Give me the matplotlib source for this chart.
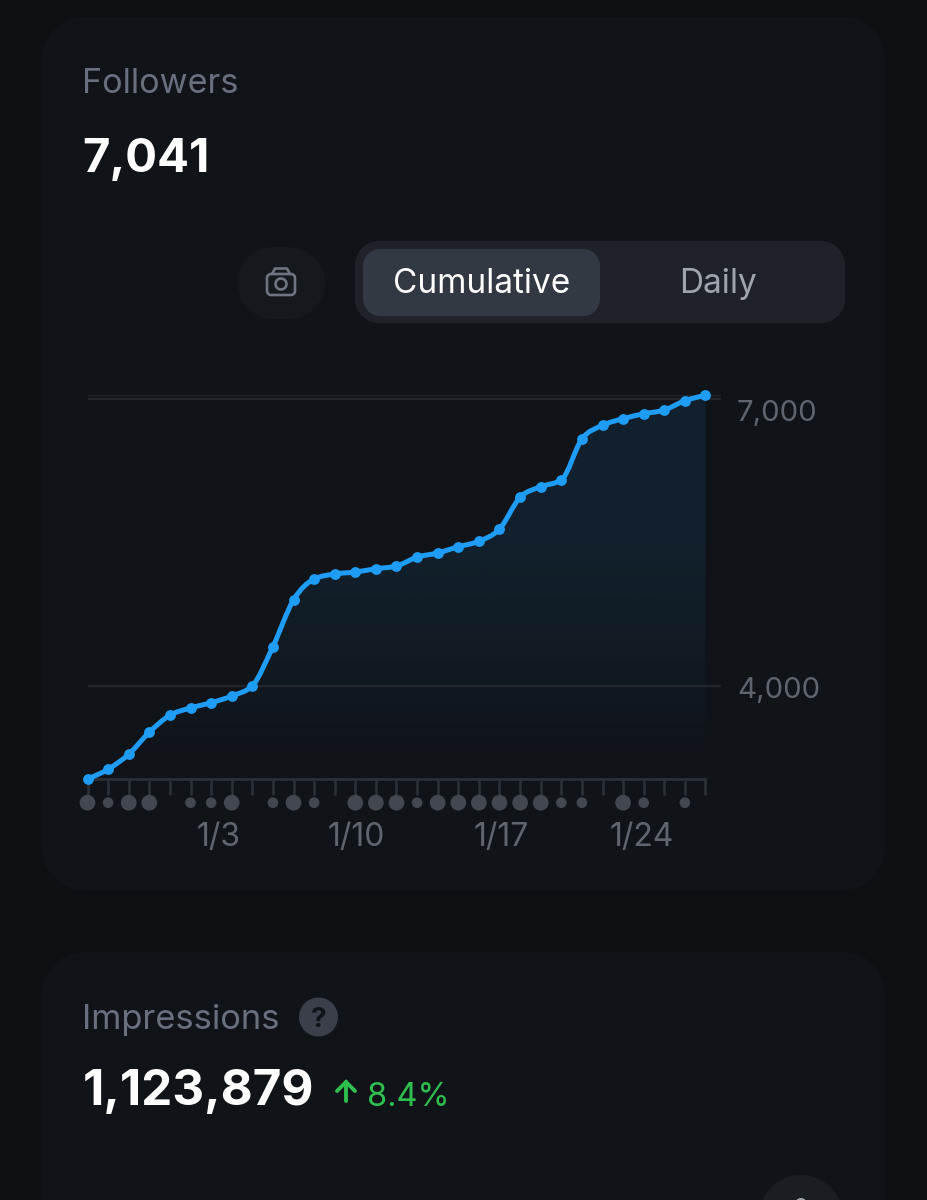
import matplotlib
matplotlib.use('Agg')
import matplotlib.pyplot as plt
import matplotlib.patches as mpatches
from matplotlib.path import Path
import numpy as np

plt.rcParams['font.family'] = ['Inter', 'DejaVu Sans']

# Cumulative followers, one value per day
followers = [3027, 3129, 3286, 3516, 3694, 3770, 3825, 3895, 4003, 4411, 4900,
             5119, 5172, 5192, 5227, 5255, 5349, 5391, 5457, 5514, 5642, 5974,
             6085, 6155, 6584, 6727, 6796, 6848, 6887, 6984, 7041]
# 2 = big dot, 1 = small dot, 0 = no dot
activity = [2, 1, 2, 2, 0, 1, 1, 2, 0, 1, 2, 1, 0, 2, 2, 2, 1, 2, 2, 2, 2, 2, 2,
            1, 1, 0, 2, 1, 0, 1, 0]
grid_values = [7041, 7000, 4000]
y_labels = ['7,000', '4,000']
y_label_values = [7000, 4000]
date_labels = ['1/3', '1/10', '1/17', '1/24']
date_label_days = [6.38, 13.03, 20.07, 26.9]

W, H = 927, 1200
BG = '#0d0f12'
CARD = '#101318'
BLUE = '#1f9cf5'
MUTED = '#69707d'
TICK_TEXT = '#5f646e'
AXIS = '#2c3037'
GRID = '#23262d'


def monotone_path(x, y):
    # cubic segments with monotone tangents, same as d3 curveMonotoneX
    x = np.asarray(x, float)
    y = np.asarray(y, float)
    h = np.diff(x)
    s = np.diff(y) / h
    m = np.zeros(len(x))
    for i in range(1, len(x) - 1):
        if s[i - 1] * s[i] > 0:
            p = (s[i - 1] * h[i] + s[i] * h[i - 1]) / (h[i - 1] + h[i])
            m[i] = (np.sign(s[i - 1]) + np.sign(s[i])) * min(abs(s[i - 1]), abs(s[i]), 0.5 * abs(p))
    m[0] = (3 * s[0] - m[1]) / 2
    m[-1] = (3 * s[-1] - m[-2]) / 2
    verts = [(x[0], y[0])]
    codes = [Path.MOVETO]
    for i in range(len(x) - 1):
        d = h[i] / 3
        verts += [(x[i] + d, y[i] + m[i] * d), (x[i + 1] - d, y[i + 1] - m[i + 1] * d), (x[i + 1], y[i + 1])]
        codes += [Path.CURVE4] * 3
    return Path(verts, codes)


def rounded(ax, x0, y0, x1, y1, r, color=None, edge=None, lw=0):
    # rounded rectangle with true circular corners
    k = r * (1 - 0.5523)
    verts = [(x0 + r, y0), (x1 - r, y0),
             (x1 - k, y0), (x1, y0 + k), (x1, y0 + r), (x1, y1 - r),
             (x1, y1 - k), (x1 - k, y1), (x1 - r, y1), (x0 + r, y1),
             (x0 + k, y1), (x0, y1 - k), (x0, y1 - r), (x0, y0 + r),
             (x0, y0 + k), (x0 + k, y0), (x0 + r, y0), (x0 + r, y0)]
    codes = [Path.MOVETO, Path.LINETO,
             Path.CURVE4, Path.CURVE4, Path.CURVE4, Path.LINETO,
             Path.CURVE4, Path.CURVE4, Path.CURVE4, Path.LINETO,
             Path.CURVE4, Path.CURVE4, Path.CURVE4, Path.LINETO,
             Path.CURVE4, Path.CURVE4, Path.CURVE4, Path.CLOSEPOLY]
    ax.add_patch(mpatches.PathPatch(Path(verts, codes), facecolor=color or 'none',
                                    edgecolor=edge or 'none', linewidth=lw))


fig = plt.figure(figsize=(W / 100, H / 100), dpi=100, facecolor=BG)

# page furniture is in pixel coordinates
page = fig.add_axes([0, 0, 1, 1], zorder=0)
page.set_xlim(0, W)
page.set_ylim(H, 0)
page.axis('off')

rounded(page, 42, 17, 885, 890, 42, CARD)
rounded(page, 42, 952, 885, 1290, 42, CARD)

page.text(82.5, 93, 'Followers', color=MUTED, fontsize=24.6, va='baseline')
page.text(82.5, 172, '7,041', color='white', fontsize=34, fontweight='bold', va='baseline')

# camera button
rounded(page, 237, 247, 325, 319, 36, '#15181c')
rounded(page, 267, 274, 295, 295, 4, None, '#6f7580', 1.9)
page.plot([272, 275, 287, 290], [274, 268.5, 268.5, 274], color='#6f7580', lw=1.9, solid_capstyle='round')
page.add_patch(mpatches.Circle((281, 284), 5.5, fill=False, edgecolor='#6f7580', linewidth=1.9))

# toggle
rounded(page, 355, 241, 845, 323, 24, '#1f2329')
rounded(page, 363, 249, 600, 316, 17, '#323943')
page.text(481.5, 293, 'Cumulative', color='white', fontsize=24, ha='center', va='baseline')
page.text(718, 293, 'Daily', color='#a0a4ad', fontsize=24, ha='center', va='baseline')

# second card
page.text(82.5, 1029, 'Impressions', color=MUTED, fontsize=24.8, va='baseline')
page.add_patch(mpatches.Circle((318.5, 1017), 19.5, facecolor='#3a3f49', linewidth=0))
page.text(318.5, 1027, '?', color=CARD, fontsize=20, fontweight='bold', ha='center', va='baseline')
page.text(83, 1105.5, '1,123,879', color='white', fontsize=35.6, fontweight='bold', va='baseline')
page.plot([346, 346], [1082, 1101], color='#2fbf4f', lw=2.8, solid_capstyle='round')
page.plot([337, 346, 355], [1091, 1082, 1091], color='#2fbf4f', lw=2.8,
          solid_capstyle='round', solid_joinstyle='miter')
page.text(367, 1105.5, '8.4%', color='#2fbf4f', fontsize=23.5, va='baseline')

# cropped button at the bottom
page.add_patch(mpatches.Circle((801, 1217), 42, facecolor='#1a1e23', linewidth=0))
page.add_patch(mpatches.Circle((801, 1204), 6, facecolor='#a0a4ad', linewidth=0))

# chart
days = np.arange(len(followers))
step = 20.6
left, right, top, bottom = 87.5, 721, 395.3, 779
ax = fig.add_axes([left / W, 1 - bottom / H, (right - left) / W, (bottom - top) / H], zorder=1)
ax.patch.set_alpha(0)

# fill under the line, fades towards the axis
grad = np.zeros((256, 1, 4))
grad[:, 0, :3] = matplotlib.colors.to_rgb('#1d9fe8')
grad[:, 0, 3] = np.concatenate([np.full(100, 0.1), np.linspace(0.1, 0.0, 156)])
poly = ax.fill_between(days, followers, followers[0], facecolor='none', linewidth=0)
img = ax.imshow(grad, extent=(0, days[-1], followers[0], max(followers)), aspect='auto',
                origin='upper', zorder=1, interpolation='bilinear')
img.set_clip_path(poly.get_paths()[0], transform=ax.transData)

for v in grid_values:
    ax.axhline(v, color=GRID, lw=1.6, zorder=2)

ax.add_patch(mpatches.PathPatch(monotone_path(days, followers), fill=False, edgecolor=BLUE, lw=3.6,
                                zorder=3, clip_on=False, capstyle='round'))
ax.plot(days, followers, ls='none', marker='o', ms=7.8, mfc=BLUE, mec='none', zorder=6, clip_on=False)

ax.set_xlim(0, (right - left) / step)
ax.set_ylim(followers[0], max(followers))

for name in ['top', 'left', 'right']:
    ax.spines[name].set_visible(False)
ax.spines['bottom'].set_color(AXIS)
ax.spines['bottom'].set_linewidth(2)
ax.spines['bottom'].set_bounds(0, days[-1])
ax.set_xticks(days)
ax.set_xticklabels([])
ax.set_yticks([])
ax.tick_params(axis='x', length=11.5, width=1.9, color=AXIS)

# activity dots under the ticks
trans = ax.get_xaxis_transform()
dot_y = -(802.7 - bottom) / (bottom - top)
act = np.array(activity)
sizes = np.where(act == 2, 128, 59)
ax.scatter(days[act > 0], [dot_y] * int((act > 0).sum()), s=sizes[act > 0], c='#43474f', linewidths=0,
           transform=trans, clip_on=False, zorder=5)

for lab, d in zip(date_labels, date_label_days):
    ax.text(d, -(846 - bottom) / (bottom - top), lab, transform=trans, color=TICK_TEXT, fontsize=23,
            ha='center', va='baseline')

y_trans = ax.get_yaxis_transform()
for lab, v, off in zip(y_labels, y_label_values, [-22, -12]):
    ax.annotate(lab, (0, v), xycoords=y_trans, xytext=(737 - left, off), textcoords='offset pixels',
                color=TICK_TEXT, fontsize=21.2, ha='left', va='baseline', annotation_clip=False)

fig.savefig('out.png', dpi=100, facecolor=BG)
